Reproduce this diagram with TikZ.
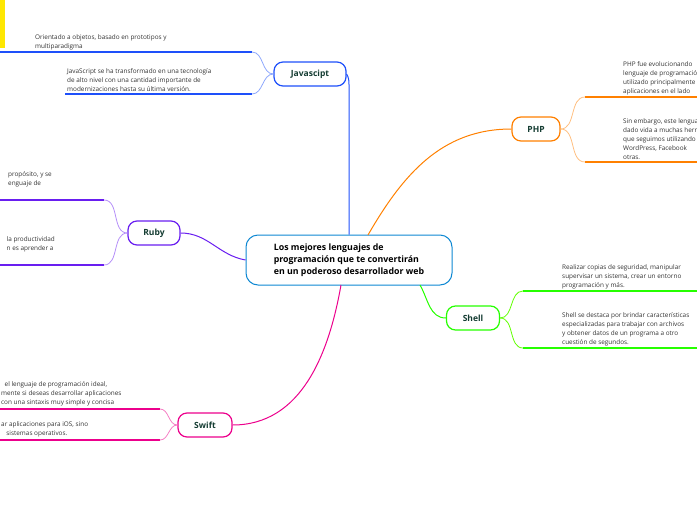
\documentclass[tikz,border=0pt]{standalone}
\usepackage{fontspec}
\setmainfont{Open Sans}
\definecolor{rb}{RGB}{105,30,240}
\definecolor{jsb}{RGB}{30,80,250}
\definecolor{ttl}{RGB}{20,60,50}
\begin{document}
\begin{tikzpicture}[x=1pt,y=-1pt,
  topic/.style={draw=#1,line width=1.2pt,rounded corners=9pt,fill=white,minimum height=24pt,font=\bfseries\fontsize{8.5}{10}\selectfont,text=ttl,inner xsep=8pt},
  leaf/.style={anchor=south west,align=left,font=\fontsize{6.4}{9}\selectfont,text=black!80,inner sep=1pt},
  ul/.style={draw=#1,line width=1.5pt},
  br/.style={draw=#1,line width=0.8pt}]
\useasboundingbox (0,0) rectangle (697,520);
\clip (0,0) rectangle (697,520);
\fill[yellow!90!orange] (0,0) rectangle (5,48);
% central
\node[draw=cyan!70!blue,line width=1pt,rounded corners=12pt,fill=white,align=left,font=\bfseries\fontsize{8.8}{12}\selectfont,minimum width=206pt,minimum height=50pt,inner xsep=6pt] (c) at (349,260) {Los mejores lenguajes de\\programación que te convertirán\\en un poderoso desarrollador web};
% topics
\node[topic=jsb,minimum width=72pt] (js) at (310,74) {Javascipt};
\node[topic=orange,minimum width=48pt] (php) at (536,129) {PHP};
\node[topic=green!80!lime,minimum width=53pt] (sh) at (473,318) {Shell};
\node[topic=rb,minimum width=52pt] (rbn) at (154,233) {Ruby};
\node[topic=magenta,minimum width=54pt] (sw) at (205,425) {Swift};
% main connectors
\draw[jsb,line width=1pt] (c.north) -- ++(0,-150) to[out=90,in=-60] (js.east);
\draw[orange,line width=1pt] (368,235) to[out=60,in=180] (php.west);
\draw[green!80!lime,line width=1pt] (420,285) to[out=-60,in=180] (sh.west);
\draw[rb,line width=1pt] (c.west) to[out=170,in=0] (rbn.east);
\draw[magenta,line width=1pt] (341,285) to[out=-100,in=0] (sw.east);
% Javascript leaves
\coordinate (j1) at (252,52); \coordinate (j2) at (252,94);
\draw[ul=jsb] (0,52) -- (j1); \draw[ul=jsb] (65,94) -- (j2);
\draw[br=jsb!50] (js.west) to[out=180,in=0] (j1); \draw[br=jsb!50] (js.west) to[out=180,in=0] (j2);
\node[leaf] (jt1) at (34,51) {Orientado a objetos, basado en prototipos y\\multiparadigma};
\node[leaf] (jt2) at (66,93) {JavaScript se ha transformado en una tecnología\\de alto nivel con una cantidad importante de\\modernizaciones hasta su última versión.};
% PHP leaves
\coordinate (p1) at (585,97); \coordinate (p2) at (585,162);
\draw[ul=orange] (p1) -- (697,97); \draw[ul=orange] (p2) -- (697,162);
\draw[br=orange!50] (php.east) to[out=0,in=180] (p1); \draw[br=orange!50] (php.east) to[out=0,in=180] (p2);
\node[leaf] (pt1) at (622,96) {PHP fue evolucionando\\lenguaje de programación\\utilizado principalmente\\aplicaciones en el lado};
\node[leaf] (pt2) at (622,161) {Sin embargo, este lenguaje\\dado vida a muchas herramientas\\que seguimos utilizando\\WordPress, Facebook\\otras.};
% Shell leaves
\coordinate (s1) at (523,291); \coordinate (s2) at (523,348);
\draw[ul=green!80!lime] (s1) -- (697,291); \draw[ul=green!80!lime] (s2) -- (697,348);
\draw[br=green!50!lime] (sh.east) to[out=0,in=180] (s1); \draw[br=green!50!lime] (sh.east) to[out=0,in=180] (s2);
\node[leaf] (st1) at (561,290) {Realizar copias de seguridad, manipular\\supervisar un sistema, crear un entorno\\programación y más.};
\node[leaf] (st2) at (561,347) {Shell se destaca por brindar características\\especializadas para trabajar con archivos\\y obtener datos de un programa a otro\\cuestión de segundos.};
% Ruby leaves
\coordinate (r1) at (104,200); \coordinate (r2) at (104,265);
\draw[ul=rb] (0,200) -- (r1); \draw[ul=rb] (0,265) -- (r2);
\draw[br=rb!50] (rbn.west) to[out=180,in=0] (r1); \draw[br=rb!50] (rbn.west) to[out=180,in=0] (r2);
\node[leaf,anchor=south east] (rt1) at (53,188) {propósito, y se\\enguaje de};
\node[leaf,anchor=south east] (rt2) at (56,253) {la productividad\\n es aprender a};
% Swift leaves
\coordinate (w1) at (160,409); \coordinate (w2) at (160,440);
\draw[ul=magenta] (0,409) -- (w1); \draw[ul=magenta] (0,440) -- (w2);
\draw[br=magenta!50] (sw.west) to[out=180,in=0] (w1); \draw[br=magenta!50] (sw.west) to[out=180,in=0] (w2);
\node[leaf,anchor=south west] (wt1) at (0,407) {\phantom{|}el lenguaje de programación ideal,\\mente si deseas desarrollar aplicaciones\\con una sintaxis muy simple y concisa};
\node[leaf,anchor=south west] (wt2) at (0,438) {ar aplicaciones para iOS, sino\\\phantom{a} sistemas operativos.};
\end{tikzpicture}
\end{document}
